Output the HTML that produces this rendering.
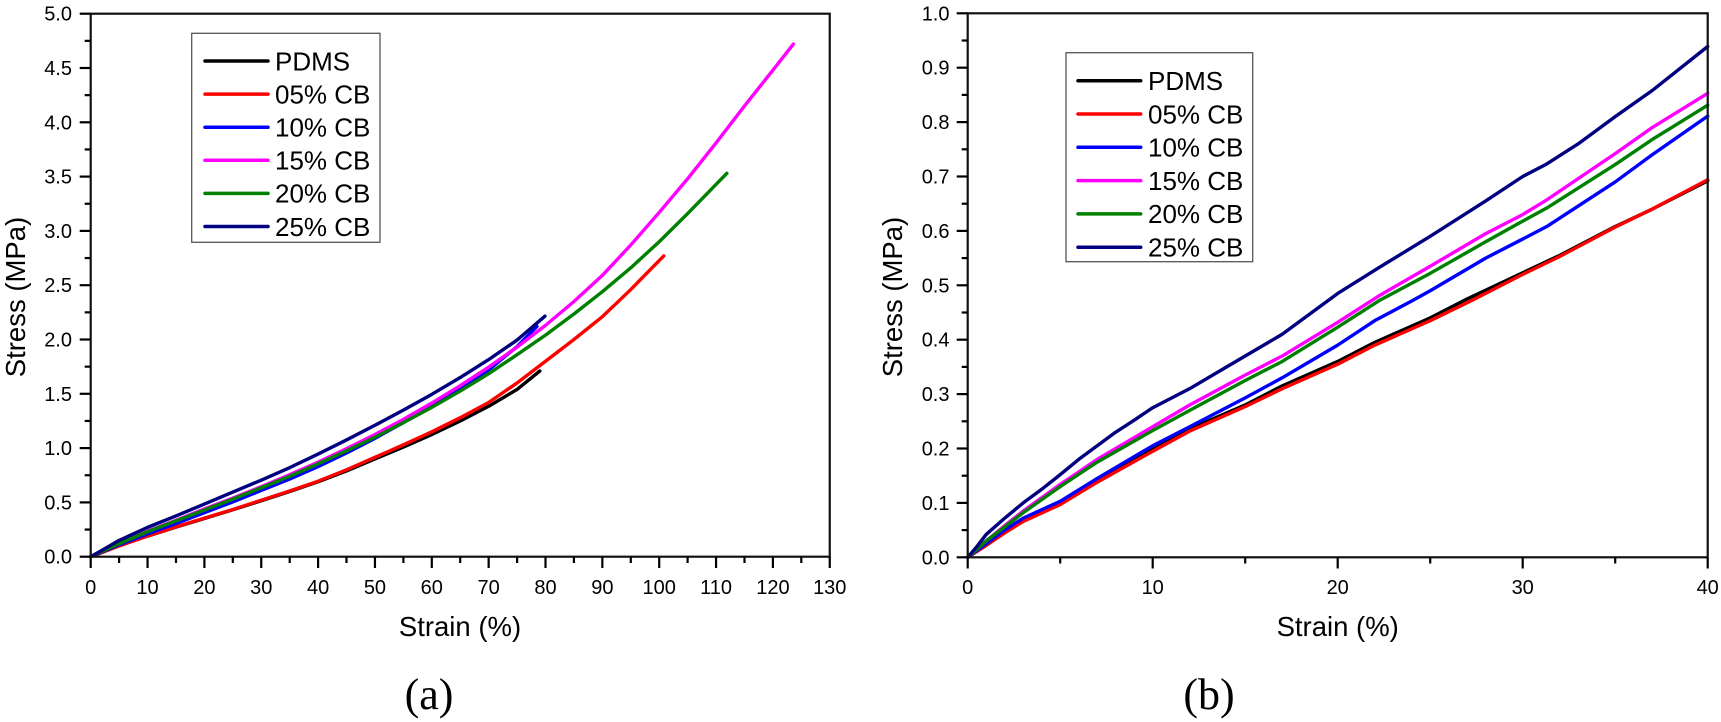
<!DOCTYPE html>
<html>
<head>
<meta charset="utf-8">
<style>
html,body{margin:0;padding:0;background:#fff;}
svg{display:block;}
.t{font-family:"Liberation Sans",Arial,sans-serif;fill:#000;}
.s{font-family:"Liberation Serif","Times New Roman",serif;fill:#000;}
.d{fill:none;stroke-width:3.4;stroke-linejoin:round;stroke-linecap:round;}
</style>
</head>
<body>
<svg width="1721" height="722" viewBox="0 0 1721 722" xmlns="http://www.w3.org/2000/svg">
<rect width="1721" height="722" fill="#fff"/>

<!-- ================= LEFT PLOT ================= -->
<g transform="translate(90.7,556.7) scale(5.685,-108.6)">
<polyline class="d" vector-effect="non-scaling-stroke" stroke="#000000" points="0,0 2,0.04 5,0.1 10,0.19 15,0.272 20,0.352 25,0.432 30,0.515 35,0.6 40,0.69 45,0.79 50,0.9 55,1.01 60,1.125 65,1.25 70,1.385 75,1.54 79,1.71"/>
<polyline class="d" vector-effect="non-scaling-stroke" stroke="#ff0000" points="0,0 2,0.04 5,0.1 10,0.19 15,0.275 20,0.355 25,0.435 30,0.52 35,0.605 40,0.695 45,0.8 50,0.915 55,1.03 60,1.15 65,1.28 70,1.42 75,1.6 80,1.8 85,2.0 90,2.21 95,2.46 100.8,2.77"/>
<polyline class="d" vector-effect="non-scaling-stroke" stroke="#0000ff" points="0,0 2,0.045 5,0.11 10,0.21 15,0.305 20,0.405 25,0.505 30,0.61 35,0.715 40,0.83 45,0.955 50,1.09 55,1.235 60,1.385 65,1.545 70,1.72 75,1.935 78.5,2.12"/>
<polyline class="d" vector-effect="non-scaling-stroke" stroke="#ff00ff" points="0,0 2,0.055 5,0.125 10,0.235 15,0.335 20,0.44 25,0.54 30,0.645 35,0.755 40,0.87 45,0.995 50,1.125 55,1.265 60,1.415 65,1.575 70,1.745 75,1.93 80,2.13 85,2.35 90,2.59 95,2.87 100,3.17 105,3.48 110,3.81 115,4.15 120,4.48 123.6,4.72"/>
<polyline class="d" vector-effect="non-scaling-stroke" stroke="#008000" points="0,0 2,0.05 5,0.12 10,0.23 15,0.33 20,0.43 25,0.53 30,0.635 35,0.74 40,0.855 45,0.975 50,1.1 55,1.235 60,1.375 65,1.525 70,1.685 75,1.86 80,2.04 85,2.235 90,2.44 95,2.66 100,2.9 105,3.16 111.9,3.53"/>
<polyline class="d" vector-effect="non-scaling-stroke" stroke="#000080" points="0,0 2,0.06 5,0.15 10,0.27 15,0.375 20,0.485 25,0.595 30,0.705 35,0.82 40,0.945 45,1.075 50,1.21 55,1.35 60,1.495 65,1.65 70,1.815 75,1.995 79.9,2.215"/>
</g>

<rect x="90.7" y="13.7" width="739.05" height="543" fill="none" stroke="#111" stroke-width="2.2"/>

<!-- left y ticks -->
<g stroke="#000" stroke-width="2.2">
<line x1="79.7" y1="556.7" x2="90.7" y2="556.7"/>
<line x1="79.7" y1="502.4" x2="90.7" y2="502.4"/>
<line x1="79.7" y1="448.1" x2="90.7" y2="448.1"/>
<line x1="79.7" y1="393.8" x2="90.7" y2="393.8"/>
<line x1="79.7" y1="339.5" x2="90.7" y2="339.5"/>
<line x1="79.7" y1="285.2" x2="90.7" y2="285.2"/>
<line x1="79.7" y1="230.9" x2="90.7" y2="230.9"/>
<line x1="79.7" y1="176.6" x2="90.7" y2="176.6"/>
<line x1="79.7" y1="122.3" x2="90.7" y2="122.3"/>
<line x1="79.7" y1="68.0" x2="90.7" y2="68.0"/>
<line x1="79.7" y1="13.7" x2="90.7" y2="13.7"/>
<line x1="84.7" y1="529.55" x2="90.7" y2="529.55"/>
<line x1="84.7" y1="475.25" x2="90.7" y2="475.25"/>
<line x1="84.7" y1="420.95" x2="90.7" y2="420.95"/>
<line x1="84.7" y1="366.65" x2="90.7" y2="366.65"/>
<line x1="84.7" y1="312.35" x2="90.7" y2="312.35"/>
<line x1="84.7" y1="258.05" x2="90.7" y2="258.05"/>
<line x1="84.7" y1="203.75" x2="90.7" y2="203.75"/>
<line x1="84.7" y1="149.45" x2="90.7" y2="149.45"/>
<line x1="84.7" y1="95.15" x2="90.7" y2="95.15"/>
<line x1="84.7" y1="40.85" x2="90.7" y2="40.85"/>
</g>
<g class="t" font-size="20" text-anchor="end">
<text x="72" y="563.7">0.0</text>
<text x="72" y="509.4">0.5</text>
<text x="72" y="455.1">1.0</text>
<text x="72" y="400.8">1.5</text>
<text x="72" y="346.5">2.0</text>
<text x="72" y="292.2">2.5</text>
<text x="72" y="237.9">3.0</text>
<text x="72" y="183.6">3.5</text>
<text x="72" y="129.3">4.0</text>
<text x="72" y="75.0">4.5</text>
<text x="72" y="20.7">5.0</text>
</g>

<!-- left x ticks -->
<g stroke="#000" stroke-width="2.2">
<line x1="90.7" y1="556.7" x2="90.7" y2="568"/>
<line x1="147.55" y1="556.7" x2="147.55" y2="568"/>
<line x1="204.4" y1="556.7" x2="204.4" y2="568"/>
<line x1="261.25" y1="556.7" x2="261.25" y2="568"/>
<line x1="318.1" y1="556.7" x2="318.1" y2="568"/>
<line x1="374.95" y1="556.7" x2="374.95" y2="568"/>
<line x1="431.8" y1="556.7" x2="431.8" y2="568"/>
<line x1="488.65" y1="556.7" x2="488.65" y2="568"/>
<line x1="545.5" y1="556.7" x2="545.5" y2="568"/>
<line x1="602.35" y1="556.7" x2="602.35" y2="568"/>
<line x1="659.2" y1="556.7" x2="659.2" y2="568"/>
<line x1="716.05" y1="556.7" x2="716.05" y2="568"/>
<line x1="772.9" y1="556.7" x2="772.9" y2="568"/>
<line x1="829.75" y1="556.7" x2="829.75" y2="568"/>
<line x1="119.1" y1="556.7" x2="119.1" y2="563"/>
<line x1="176.0" y1="556.7" x2="176.0" y2="563"/>
<line x1="232.8" y1="556.7" x2="232.8" y2="563"/>
<line x1="289.7" y1="556.7" x2="289.7" y2="563"/>
<line x1="346.5" y1="556.7" x2="346.5" y2="563"/>
<line x1="403.4" y1="556.7" x2="403.4" y2="563"/>
<line x1="460.2" y1="556.7" x2="460.2" y2="563"/>
<line x1="517.1" y1="556.7" x2="517.1" y2="563"/>
<line x1="573.9" y1="556.7" x2="573.9" y2="563"/>
<line x1="630.8" y1="556.7" x2="630.8" y2="563"/>
<line x1="687.6" y1="556.7" x2="687.6" y2="563"/>
<line x1="744.5" y1="556.7" x2="744.5" y2="563"/>
<line x1="801.3" y1="556.7" x2="801.3" y2="563"/>
</g>
<g class="t" font-size="20" text-anchor="middle">
<text x="90.7" y="594">0</text>
<text x="147.55" y="594">10</text>
<text x="204.4" y="594">20</text>
<text x="261.25" y="594">30</text>
<text x="318.1" y="594">40</text>
<text x="374.95" y="594">50</text>
<text x="431.8" y="594">60</text>
<text x="488.65" y="594">70</text>
<text x="545.5" y="594">80</text>
<text x="602.35" y="594">90</text>
<text x="659.2" y="594">100</text>
<text x="716.05" y="594">110</text>
<text x="772.9" y="594">120</text>
<text x="829.75" y="594">130</text>
</g>

<text class="t" font-size="27.5" text-anchor="middle" x="460" y="636">Strain (%)</text>
<text class="t" font-size="27.5" text-anchor="middle" transform="translate(25,297) rotate(-90)">Stress (MPa)</text>

<!-- left legend -->
<rect x="191.7" y="33.3" width="188.3" height="209" fill="#fff" stroke="#555" stroke-width="1.3"/>
<g stroke-width="3.5" stroke-linecap="round">
<line x1="205" y1="61" x2="268" y2="61" stroke="#000"/>
<line x1="205" y1="94.1" x2="268" y2="94.1" stroke="#ff0000"/>
<line x1="205" y1="127.2" x2="268" y2="127.2" stroke="#0000ff"/>
<line x1="205" y1="160.3" x2="268" y2="160.3" stroke="#ff00ff"/>
<line x1="205" y1="193.4" x2="268" y2="193.4" stroke="#008000"/>
<line x1="205" y1="226.5" x2="268" y2="226.5" stroke="#000080"/>
</g>
<g class="t" font-size="26">
<text x="275" y="70.3">PDMS</text>
<text x="275" y="103.4">05% CB</text>
<text x="275" y="136.5">10% CB</text>
<text x="275" y="169.6">15% CB</text>
<text x="275" y="202.7">20% CB</text>
<text x="275" y="235.8">25% CB</text>
</g>

<text class="s" font-size="44" text-anchor="middle" x="429" y="709">(a)</text>

<!-- ================= RIGHT PLOT ================= -->
<g transform="translate(967.7,557.3) scale(18.5,-544)">
<polyline class="d" vector-effect="non-scaling-stroke" stroke="#000000" points="0,0 1,0.022 2,0.045 3,0.067 5,0.098 7,0.14 10,0.2 12,0.236 15,0.28 17,0.315 20,0.36 22,0.395 25,0.44 27,0.475 30,0.523 32,0.555 35,0.608 37,0.64 40,0.692"/>
<polyline class="d" vector-effect="non-scaling-stroke" stroke="#ff0000" points="0,0 1,0.022 2,0.045 3,0.066 5,0.097 7,0.138 10,0.195 12,0.232 15,0.277 17,0.31 20,0.355 22,0.39 25,0.435 27.3,0.473 30,0.52 32,0.553 35,0.607 37,0.64 40,0.694"/>
<polyline class="d" vector-effect="non-scaling-stroke" stroke="#0000ff" points="0,0 1,0.025 2,0.05 3,0.072 5,0.103 7,0.145 10,0.205 12,0.24 15,0.293 17,0.33 20,0.39 22,0.435 24.1,0.473 25,0.49 28,0.55 30,0.585 31.3,0.608 35,0.69 37,0.74 40,0.811"/>
<polyline class="d" vector-effect="non-scaling-stroke" stroke="#ff00ff" points="0,0 1,0.03 2,0.058 3,0.085 5,0.134 7,0.18 10,0.24 12,0.28 15,0.335 17,0.37 20,0.432 22.3,0.482 25,0.535 28,0.595 30,0.63 31.3,0.657 35,0.742 37,0.79 40,0.853"/>
<polyline class="d" vector-effect="non-scaling-stroke" stroke="#008000" points="0,0 1,0.03 2,0.056 3,0.082 5,0.13 7,0.175 10,0.233 12,0.27 15,0.325 17,0.36 20,0.423 22.3,0.473 25,0.522 28,0.58 30,0.618 31.3,0.642 35,0.722 37,0.768 40,0.831"/>
<polyline class="d" vector-effect="non-scaling-stroke" stroke="#000080" points="0,0 0.5,0.02 1,0.042 2,0.072 3,0.1 4,0.125 5,0.152 6,0.18 7,0.205 8,0.23 9,0.252 10,0.275 12,0.31 14,0.35 15,0.37 17,0.41 20,0.485 22.3,0.534 25,0.59 28,0.655 30,0.7 31.3,0.723 33,0.76 35,0.81 37,0.858 40,0.939"/>
</g>

<rect x="967.7" y="13.3" width="740" height="544" fill="none" stroke="#111" stroke-width="2.2"/>

<!-- right y ticks -->
<g stroke="#000" stroke-width="2.2">
<line x1="956.7" y1="557.3" x2="967.7" y2="557.3"/>
<line x1="956.7" y1="502.9" x2="967.7" y2="502.9"/>
<line x1="956.7" y1="448.5" x2="967.7" y2="448.5"/>
<line x1="956.7" y1="394.1" x2="967.7" y2="394.1"/>
<line x1="956.7" y1="339.7" x2="967.7" y2="339.7"/>
<line x1="956.7" y1="285.3" x2="967.7" y2="285.3"/>
<line x1="956.7" y1="230.9" x2="967.7" y2="230.9"/>
<line x1="956.7" y1="176.5" x2="967.7" y2="176.5"/>
<line x1="956.7" y1="122.1" x2="967.7" y2="122.1"/>
<line x1="956.7" y1="67.7" x2="967.7" y2="67.7"/>
<line x1="956.7" y1="13.3" x2="967.7" y2="13.3"/>
<line x1="961.7" y1="530.1" x2="967.7" y2="530.1"/>
<line x1="961.7" y1="475.7" x2="967.7" y2="475.7"/>
<line x1="961.7" y1="421.3" x2="967.7" y2="421.3"/>
<line x1="961.7" y1="366.9" x2="967.7" y2="366.9"/>
<line x1="961.7" y1="312.5" x2="967.7" y2="312.5"/>
<line x1="961.7" y1="258.1" x2="967.7" y2="258.1"/>
<line x1="961.7" y1="203.7" x2="967.7" y2="203.7"/>
<line x1="961.7" y1="149.3" x2="967.7" y2="149.3"/>
<line x1="961.7" y1="94.9" x2="967.7" y2="94.9"/>
<line x1="961.7" y1="40.5" x2="967.7" y2="40.5"/>
</g>
<g class="t" font-size="20" text-anchor="end">
<text x="949.5" y="564.3">0.0</text>
<text x="949.5" y="509.9">0.1</text>
<text x="949.5" y="455.5">0.2</text>
<text x="949.5" y="401.1">0.3</text>
<text x="949.5" y="346.7">0.4</text>
<text x="949.5" y="292.3">0.5</text>
<text x="949.5" y="237.9">0.6</text>
<text x="949.5" y="183.5">0.7</text>
<text x="949.5" y="129.1">0.8</text>
<text x="949.5" y="74.7">0.9</text>
<text x="949.5" y="20.3">1.0</text>
</g>

<!-- right x ticks -->
<g stroke="#000" stroke-width="2.2">
<line x1="967.7" y1="557.3" x2="967.7" y2="568.5"/>
<line x1="1152.7" y1="557.3" x2="1152.7" y2="568.5"/>
<line x1="1337.7" y1="557.3" x2="1337.7" y2="568.5"/>
<line x1="1522.7" y1="557.3" x2="1522.7" y2="568.5"/>
<line x1="1707.7" y1="557.3" x2="1707.7" y2="568.5"/>
<line x1="1060.2" y1="557.3" x2="1060.2" y2="563.5"/>
<line x1="1245.2" y1="557.3" x2="1245.2" y2="563.5"/>
<line x1="1430.2" y1="557.3" x2="1430.2" y2="563.5"/>
<line x1="1615.2" y1="557.3" x2="1615.2" y2="563.5"/>
</g>
<g class="t" font-size="20" text-anchor="middle">
<text x="967.7" y="594">0</text>
<text x="1152.7" y="594">10</text>
<text x="1337.7" y="594">20</text>
<text x="1522.7" y="594">30</text>
<text x="1707.7" y="594">40</text>
</g>

<text class="t" font-size="27.5" text-anchor="middle" x="1337.7" y="636">Strain (%)</text>
<text class="t" font-size="27.5" text-anchor="middle" transform="translate(902,297) rotate(-90)">Stress (MPa)</text>

<!-- right legend -->
<rect x="1066" y="52.7" width="186.7" height="209" fill="#fff" stroke="#555" stroke-width="1.3"/>
<g stroke-width="3.5" stroke-linecap="round">
<line x1="1078" y1="80.7" x2="1140.7" y2="80.7" stroke="#000"/>
<line x1="1078" y1="114" x2="1140.7" y2="114" stroke="#ff0000"/>
<line x1="1078" y1="147.3" x2="1140.7" y2="147.3" stroke="#0000ff"/>
<line x1="1078" y1="180.6" x2="1140.7" y2="180.6" stroke="#ff00ff"/>
<line x1="1078" y1="213.9" x2="1140.7" y2="213.9" stroke="#008000"/>
<line x1="1078" y1="247.2" x2="1140.7" y2="247.2" stroke="#000080"/>
</g>
<g class="t" font-size="26">
<text x="1148" y="90">PDMS</text>
<text x="1148" y="123.3">05% CB</text>
<text x="1148" y="156.6">10% CB</text>
<text x="1148" y="189.9">15% CB</text>
<text x="1148" y="223.2">20% CB</text>
<text x="1148" y="256.5">25% CB</text>
</g>

<text class="s" font-size="44" text-anchor="middle" x="1209" y="709">(b)</text>
</svg>
</body>
</html>
